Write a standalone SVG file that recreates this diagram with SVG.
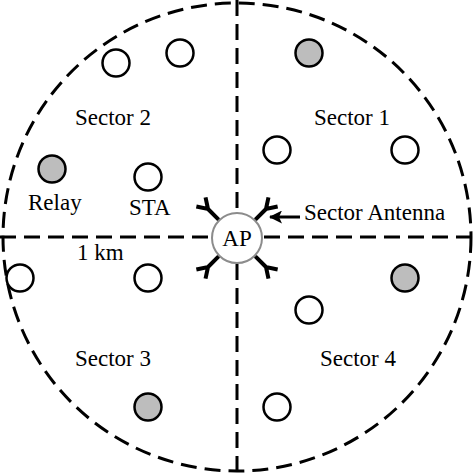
<svg xmlns="http://www.w3.org/2000/svg" width="474" height="474" viewBox="0 0 474 474">
<style>
.dash{fill:none;stroke:#000;stroke-width:3;stroke-dasharray:16 8}
.sta{fill:#fff;stroke:#000;stroke-width:2.5}
.relay{fill:#bdbdbd;stroke:#000;stroke-width:2.5}
.ant{fill:none;stroke:#000;stroke-width:4;stroke-linecap:butt;stroke-linejoin:miter}
text{font-family:"Liberation Serif","Times New Roman",serif;font-size:23px;fill:#000}
</style>
<defs>
<g id="antenna"><path class="ant" d="M26,0 L41,0 M51,-6.5 L41,0 L51,6.5"/></g>
<marker id="arr" markerWidth="13" markerHeight="13" refX="12" refY="6.5" orient="auto" markerUnits="userSpaceOnUse"><path d="M0,0 L13,6.5 L0,13 L3,6.5 Z" fill="#000"/></marker>
</defs>
<rect width="474" height="474" fill="#fff"/>
<g id="connectors">
<circle class="dash" cx="237" cy="237" r="234" stroke-dasharray="15 8"/>
<line class="dash" x1="0" y1="237" x2="474" y2="237"/>
<line class="dash" x1="237" y1="0" x2="237" y2="474"/>
<line x1="300" y1="217" x2="270" y2="217" stroke="#000" stroke-width="3" marker-end="url(#arr)"/>
</g>
<g id="ap">
<circle cx="237" cy="238" r="25" fill="#fff" stroke="#8c8c8c" stroke-width="2"/>
<text x="237" y="246" text-anchor="middle" font-size="22">AP</text>
<use href="#antenna" transform="translate(237,238) rotate(-45)"/>
<use href="#antenna" transform="translate(237,238) rotate(-135)"/>
<use href="#antenna" transform="translate(237,238) rotate(135)"/>
<use href="#antenna" transform="translate(237,238) rotate(45)"/>
</g>
<g id="sector1">
<circle class="relay" cx="309" cy="53" r="13.5"/>
<circle class="sta" cx="277" cy="150" r="13.5"/>
<circle class="sta" cx="405" cy="150" r="13.5"/>
<text x="314" y="125">Sector 1</text>
</g>
<g id="sector2">
<circle class="sta" cx="116" cy="63" r="13.5"/>
<circle class="sta" cx="180" cy="53" r="13.5"/>
<circle class="relay" cx="52" cy="169" r="13.5"/>
<circle class="sta" cx="148" cy="177" r="13.5"/>
<text x="75" y="125">Sector 2</text>
<text x="28" y="210">Relay</text>
<text x="129" y="215">STA</text>
</g>
<g id="sector3">
<circle class="sta" cx="20" cy="278" r="13.5"/>
<circle class="sta" cx="148" cy="278" r="13.5"/>
<circle class="relay" cx="148" cy="407" r="13.5"/>
<text x="77" y="260">1 km</text>
<text x="75" y="366">Sector 3</text>
</g>
<g id="sector4">
<circle class="relay" cx="405" cy="278" r="13.5"/>
<circle class="sta" cx="309" cy="310" r="13.5"/>
<circle class="sta" cx="277" cy="407" r="13.5"/>
<text x="320" y="366">Sector 4</text>
</g>
<g id="label-antenna">
<text x="304" y="220">Sector Antenna</text>
</g>
</svg>
